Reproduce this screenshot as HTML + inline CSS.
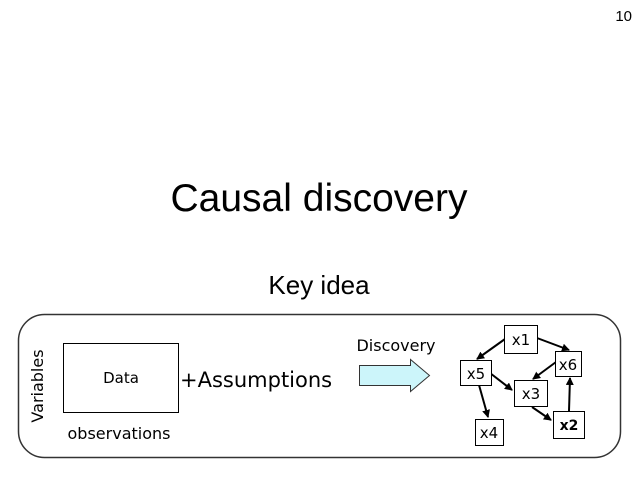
<!DOCTYPE html>
<html><head><style>
body{margin:0;width:638px;height:479px;background:#fff;position:relative;overflow:hidden;font-family:"DejaVu Sans","Liberation Sans",sans-serif;}
.t{position:absolute;white-space:nowrap;color:#000;}
</style></head><body>
<div class="t" style="right:6px;top:8px;font-size:15px;font-family:'Liberation Sans',sans-serif;">10</div>
<div class="t" style="left:0;width:638px;text-align:center;top:177px;font-size:39px;font-family:'Liberation Sans',sans-serif;">Causal discovery</div>
<div class="t" style="left:0;width:638px;text-align:center;top:270px;font-size:26px;font-family:'Liberation Sans',sans-serif;">Key idea</div>
<svg width="638" height="479" style="position:absolute;left:0;top:0" font-family="DejaVu Sans, sans-serif">
<defs><marker id="a" markerWidth="8" markerHeight="8" refX="7" refY="4" orient="auto" markerUnits="userSpaceOnUse"><path d="M0,0L8,4L0,8z" fill="#000"/></marker></defs>
<rect x="18.5" y="314.5" width="602" height="143" rx="26" fill="none" stroke="#333" stroke-width="1.5"/>
<rect x="63.5" y="343.5" width="115" height="69" fill="#fff" stroke="#000"/>
<text x="121" y="383" font-size="15" text-anchor="middle">Data</text>
<text x="43" y="386" font-size="16" text-anchor="middle" transform="rotate(-90 43 386)">Variables</text>
<text x="119" y="439" font-size="16" text-anchor="middle">observations</text>
<text x="180" y="387" font-size="21">+Assumptions</text>
<text x="396" y="351" font-size="16" text-anchor="middle">Discovery</text>
<path d="M359.5,365.5H410.5V359.5L429.5,375.5L410.5,391.5V385.5H359.5Z" fill="#ccf5fa" stroke="#333"/>
<g stroke="#000" stroke-width="2" marker-end="url(#a)">
<line x1="505" y1="339" x2="477" y2="359"/>
<line x1="537" y1="338" x2="569" y2="350"/>
<line x1="490" y1="373" x2="512" y2="390"/>
<line x1="556" y1="362" x2="533" y2="379"/>
<line x1="479" y1="385" x2="488" y2="417"/>
<line x1="532" y1="407" x2="551" y2="420"/>
<line x1="569" y1="411" x2="570" y2="378"/>
</g>
<g fill="#fff" stroke="#000">
<rect x="504.5" y="325.5" width="33" height="28"/>
<rect x="555.5" y="351.5" width="26" height="25"/>
<rect x="460.5" y="360.5" width="31" height="25"/>
<rect x="514.5" y="380.5" width="33" height="26"/>
<rect x="553.5" y="411.5" width="31" height="27"/>
<rect x="475.5" y="419.5" width="28" height="26"/>
</g>
<g font-size="15" text-anchor="middle">
<text x="521" y="345">x1</text>
<text x="568" y="370">x6</text>
<text x="476" y="379">x5</text>
<text x="531" y="399">x3</text>
<text x="569" y="430" font-weight="bold" font-size="14">x2</text>
<text x="489" y="438">x4</text>
</g>
</svg>
</body></html>
